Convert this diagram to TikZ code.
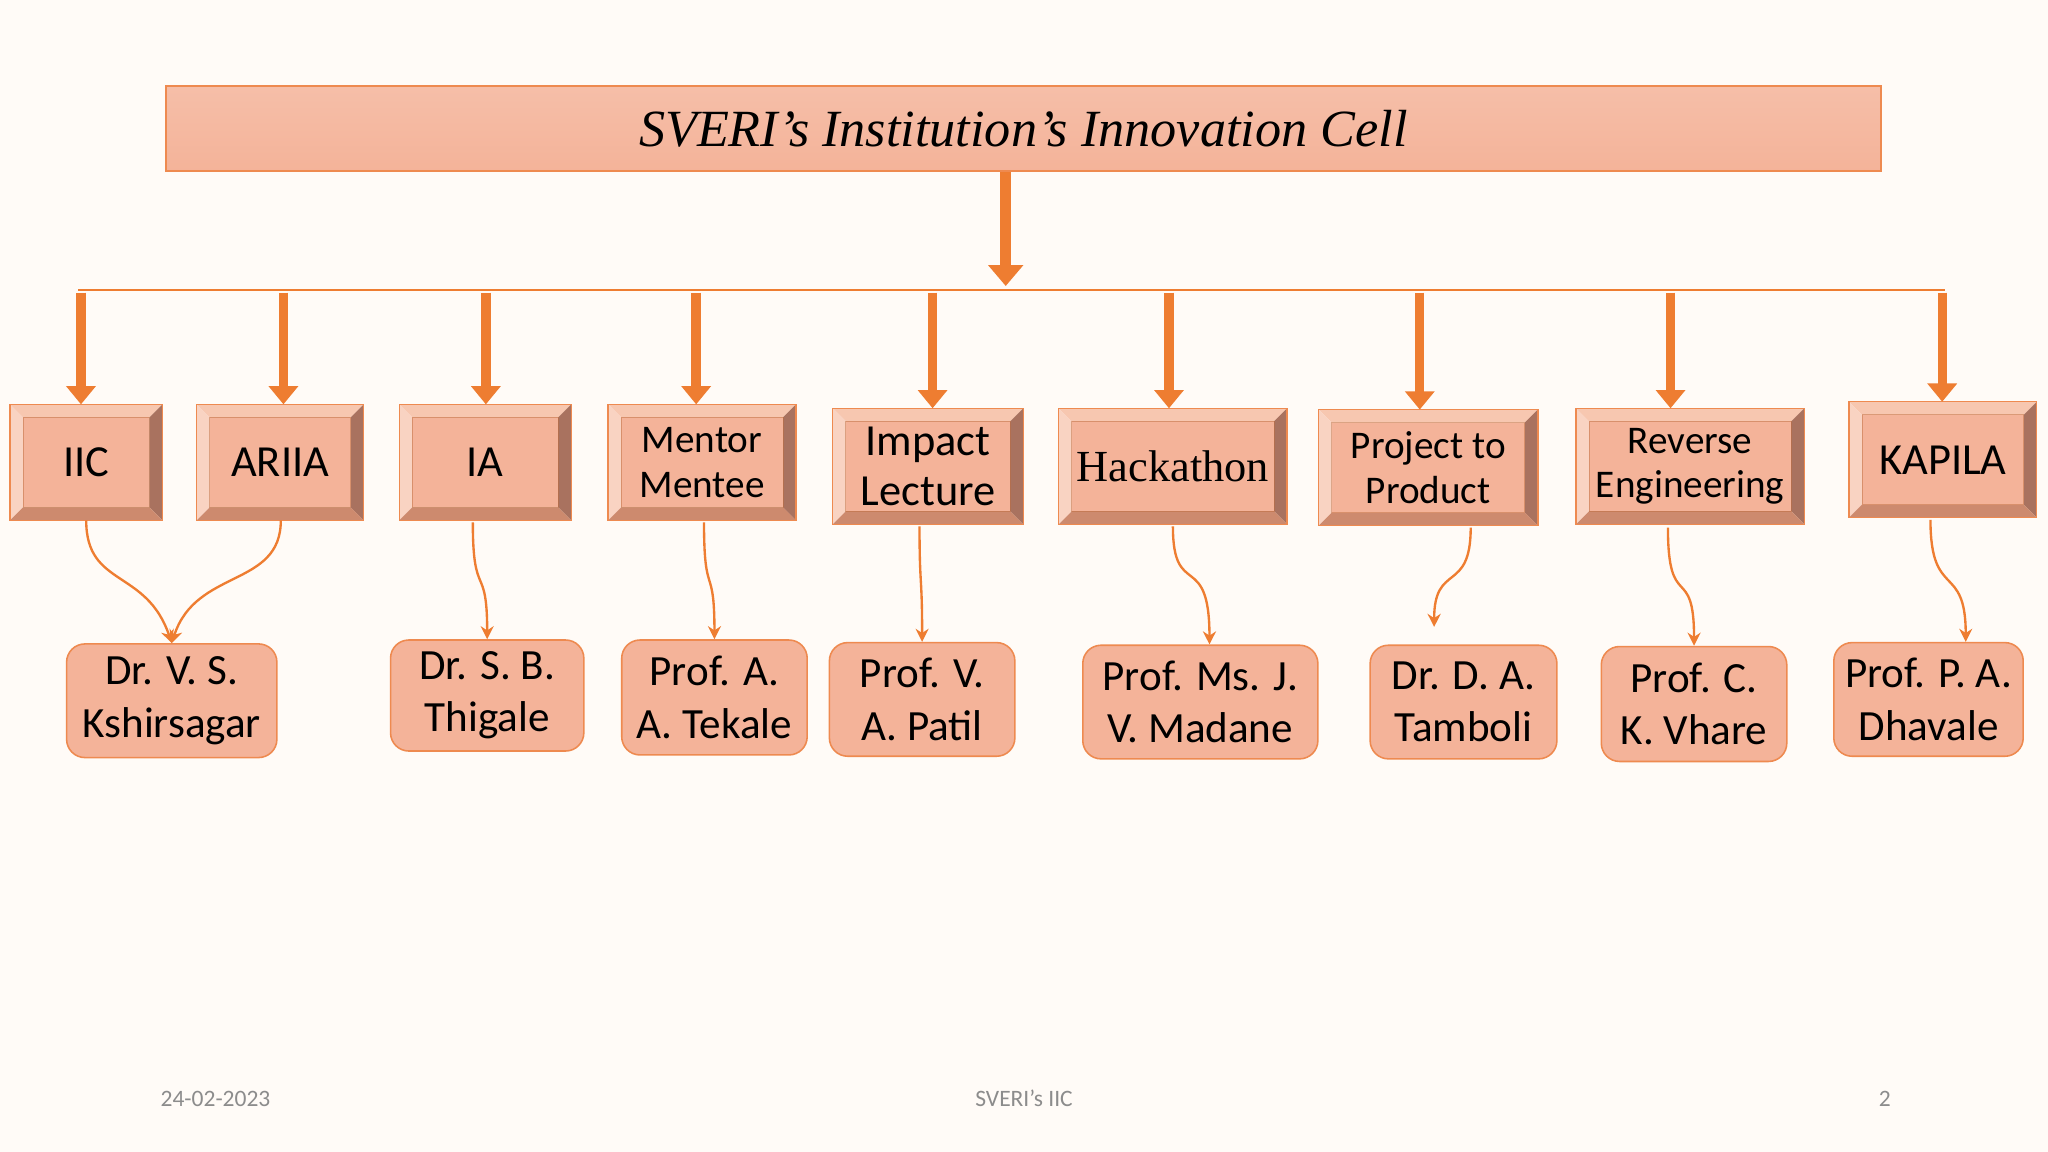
\documentclass[tikz,border=0pt]{standalone}
\usepackage{fontspec}
\setmainfont{Carlito}
\newfontfamily\serifF{Liberation Serif}
\usetikzlibrary{arrows.meta}
\definecolor{face}{HTML}{F4B399}
\definecolor{edge}{HTML}{EE8A50}
\definecolor{bTop}{HTML}{F7C7B0}
\definecolor{bLeft}{HTML}{F9D3C2}
\definecolor{bRight}{HTML}{A9725F}
\definecolor{bBot}{HTML}{CD8A6E}
\definecolor{arr}{HTML}{EE7D31}
\definecolor{foot}{HTML}{8C8C8C}
\tikzset{
  pbox/.style={inner sep=0pt,align=center,font=\fontsize{17}{20}\selectfont},
  rbox/.style={draw=edge,fill=face,rounded corners=7pt,inner sep=0pt,align=center,font=\fontsize{16.5}{20}\selectfont,line width=0.6pt},
  bigarr/.style={draw=arr,line width=3.6pt,-{Triangle[length=7pt,width=11pt]}},
  thin/.style={draw=arr,line width=0.9pt,-{Stealth[length=5pt,width=5pt]}},
  foottext/.style={text=foot,font=\fontsize{9}{11}\selectfont}
}
\newcommand{\bev}[7]{%
  \node[pbox,minimum width={(#4-#2)*0.5pt},minimum height={(#5-#3)*0.5pt},font=#7] (#1) at ({(#2+#4)/2},{(#3+#5)/2}) {#6};
  \fill[bTop] (#1.north west) -- (#1.north east) -- ([shift={(-5pt,-5pt)}]#1.north east) -- ([shift={(5pt,-5pt)}]#1.north west) -- cycle;
  \fill[bLeft] (#1.north west) -- ([shift={(5pt,-5pt)}]#1.north west) -- ([shift={(5pt,5pt)}]#1.south west) -- (#1.south west) -- cycle;
  \fill[bRight] (#1.north east) -- ([shift={(-5pt,-5pt)}]#1.north east) -- ([shift={(-5pt,5pt)}]#1.south east) -- (#1.south east) -- cycle;
  \fill[bBot] (#1.south west) -- ([shift={(5pt,5pt)}]#1.south west) -- ([shift={(-5pt,5pt)}]#1.south east) -- (#1.south east) -- cycle;
  \fill[face] ([shift={(5pt,-5pt)}]#1.north west) rectangle ([shift={(-5pt,5pt)}]#1.south east);
  \draw[edge,line width=0.5pt] (#1.north west) rectangle (#1.south east);
  \draw[edge!80!black,line width=0.3pt,opacity=0.5] ([shift={(5pt,-5pt)}]#1.north west) rectangle ([shift={(-5pt,5pt)}]#1.south east);
  \node[pbox,font=#7] at (#1.center) {#6};
}
\newcommand{\rb}[6]{%
  \node[rbox,minimum width={(#4-#2)*0.5pt},minimum height={(#5-#3)*0.5pt}] (#1) at ({(#2+#4)/2},{(#3+#5)/2}) {#6};
}
\begin{document}
\begin{tikzpicture}[x=0.5pt,y=-0.5pt]
\fill[white!97!orange] (0,0) rectangle (1568,882);
\useasboundingbox (0,0) rectangle (1568,882);
% title
\node[draw=edge,line width=0.6pt,top color=face!85!white,bottom color=face,minimum width=656.5pt,minimum height=32.5pt,inner sep=0pt,font=\serifF\itshape\fontsize{20}{24}\selectfont] (title) at (783.5,98.5) {SVERI’s Institution’s Innovation Cell};
\coordinate (hub) at (770,219);
\draw[bigarr,line width=4.4pt,-{Triangle[length=8pt,width=13pt]}] (title.south -| hub) -- (hub);
\coordinate (hl) at (60,222);
\coordinate (hr) at (1489,222);
\draw[arr,line width=1.1pt] (hl) -- (hr);
% bevel boxes
\bev{iic}{8}{310}{124}{398}{IIC}{\fontsize{17}{20}\selectfont}
\bev{ariia}{151}{310}{278}{398}{ARIIA}{\fontsize{17}{20}\selectfont}
\bev{ia}{306}{310}{437}{398}{IA}{\fontsize{17}{20}\selectfont}
\bev{mm}{466}{310}{609}{398}{Mentor\\Mentee}{\fontsize{15}{17}\selectfont}
\bev{il}{638}{313}{783}{401}{Impact\\Lecture}{\fontsize{17}{19}\selectfont}
\bev{hk}{811}{313}{985}{401}{Hackathon}{\serifF\fontsize{17}{20}\selectfont}
\bev{pp}{1010}{314}{1177}{402}{Project to\\Product}{\fontsize{15}{17}\selectfont}
\bev{re}{1207}{313}{1381}{401}{Reverse\\Engineering}{\fontsize{15}{17}\selectfont}
\bev{kp}{1416}{308}{1559}{396}{KAPILA}{\fontsize{17}{20}\selectfont}
% big arrows
\foreach \n/\x in {iic/62,ariia/217,ia/372,mm/533,il/714,hk/895,pp/1087,re/1279,kp/1487}{
  \draw[bigarr] (\x,224) -- (\x,0 |- \n.north);
}
% rounded boxes
\rb{vs}{51}{493}{212}{580}{Dr. V. S.\\Kshirsagar}
\rb{sb}{299}{490}{447}{575}{Dr. S. B.\\Thigale}
\rb{aa}{476}{490}{618}{578}{Prof. A.\\A. Tekale}
\rb{va}{635}{492}{777}{579}{Prof. V.\\A. Patil}
\rb{jv}{829}{494}{1009}{581}{Prof. Ms. J.\\V. Madane}
\rb{da}{1049}{494}{1192}{581}{Dr. D. A.\\Tamboli}
\rb{ck}{1226}{495}{1368}{583}{Prof. C.\\K. Vhare}
\rb{pa}{1404}{492}{1549}{579}{Prof. P. A.\\Dhavale}
% curved connectors
\draw[thin] (iic.south -| 66,0) .. controls (66,450) and (112,435) .. (vs.north);
\draw[thin] (ariia.south -| 215,0) .. controls (215,450) and (150,435) .. (vs.north);
\draw[thin] (362,400) .. controls (362,460) and (373,430) .. (sb.north -| 373,0);
\draw[thin] (539,400) .. controls (539,460) and (547,430) .. (aa.north -| 547,0);
\draw[thin] (704,403) .. controls (704,450) and (706,440) .. (va.north -| 706,0);
\draw[thin] (898,403) .. controls (898,460) and (926,420) .. (jv.north -| 926,0);
\draw[thin] (1126,404) .. controls (1126,455) and (1098,430) .. (1098,480);
\draw[thin] (1277,404) .. controls (1277,470) and (1297,430) .. (ck.north -| 1297,0);
\draw[thin] (1478,398) .. controls (1478,460) and (1505,430) .. (pa.north -| 1505,0);
% footer
\node[foottext] (d) at (165,841) {24-02-2023};
\node[foottext] (f) at (784,841) {SVERI's IIC};
\node[foottext] (p) at (1443,841) {2};
\end{tikzpicture}
\end{document}
